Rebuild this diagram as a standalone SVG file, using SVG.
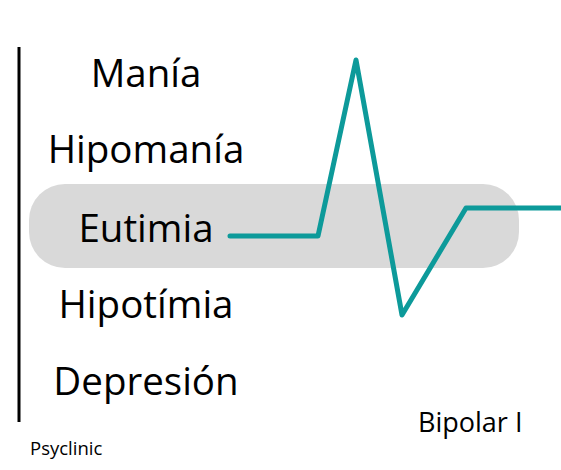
<svg xmlns="http://www.w3.org/2000/svg" width="561" height="470" viewBox="0 0 561 470">
<style>
.lbl{font-family:"Open Sans","Noto Sans",sans-serif;font-size:38.5px;fill:#000;text-anchor:middle}
.small{font-family:"Open Sans","Noto Sans",sans-serif;fill:#000}
</style>
<rect width="561" height="470" fill="#fff"/>
<line x1="19" y1="47" x2="19" y2="422" stroke="#000" stroke-width="3"/>
<g id="eutimia-band"><rect x="29" y="184" width="490" height="84" rx="36" fill="#d9d9d9"/></g>
<g id="mania"><text class="lbl" x="146" y="87">Manía</text></g>
<g id="hipomania"><text class="lbl" x="146" y="163">Hipomanía</text></g>
<g id="eutimia"><text class="lbl" x="146" y="242">Eutimia</text></g>
<g id="hipotimia"><text class="lbl" x="146" y="318">Hipotímia</text></g>
<g id="depresion"><text class="lbl" x="146" y="395">Depresión</text></g>
<g id="connectors"><polyline points="230,236 318,236 356,60 402,315 466,208 563,208" fill="none" stroke="#0d9a9a" stroke-width="5" stroke-linejoin="round" stroke-linecap="round"/></g>
<g id="bipolar"><text class="small" x="418" y="432" font-size="27">Bipolar I</text></g>
<g id="psyclinic"><text class="small" x="30" y="455" font-size="18.5">Psyclinic</text></g>
</svg>
